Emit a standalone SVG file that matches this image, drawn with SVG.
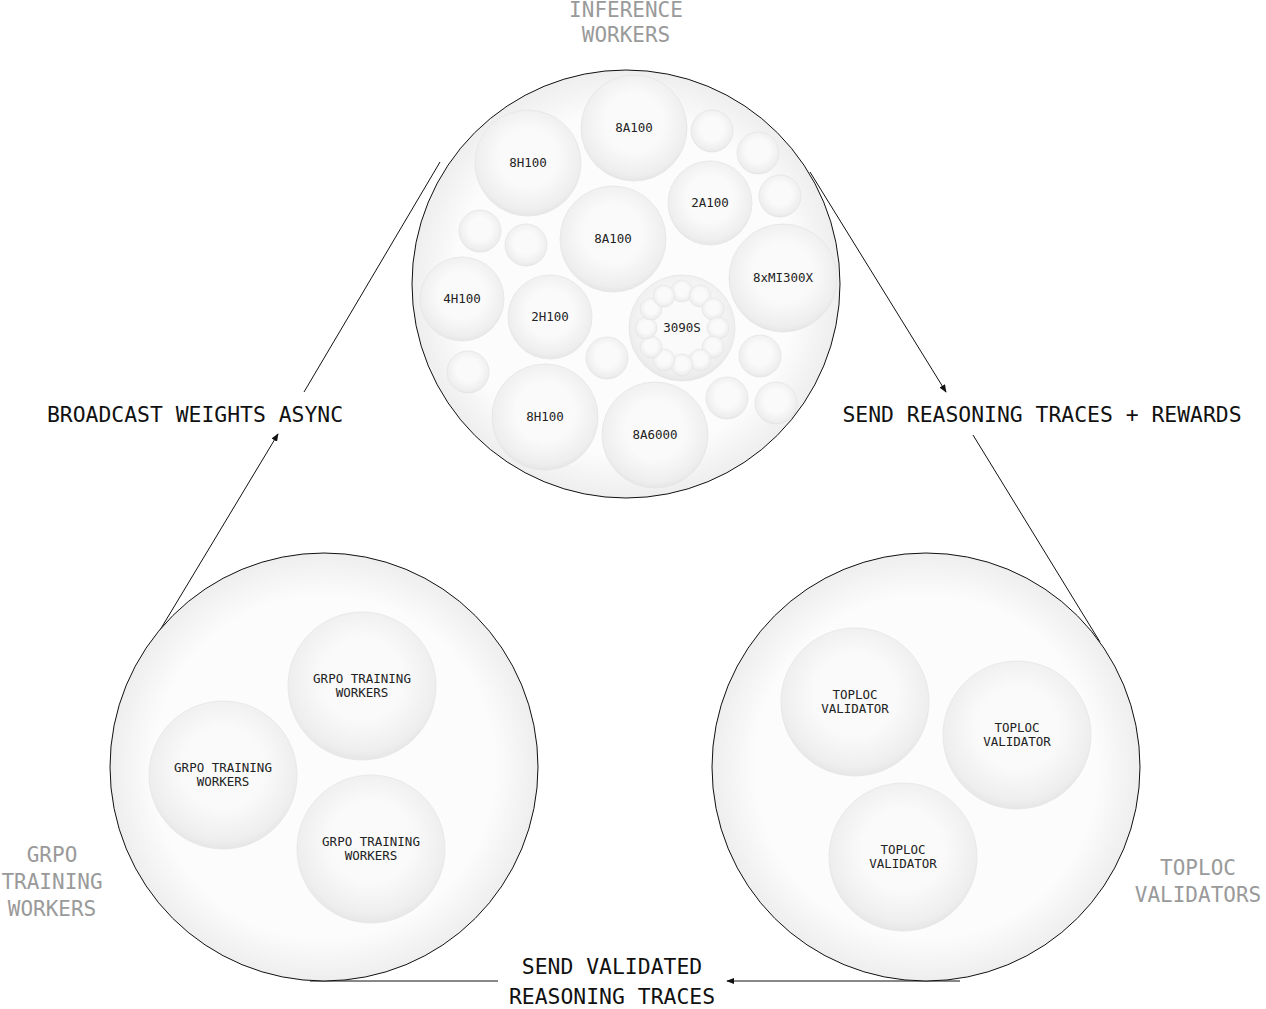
<svg xmlns="http://www.w3.org/2000/svg" width="1266" height="1009" viewBox="0 0 1266 1009">
<defs>
<radialGradient id="outer" cx="50%" cy="50%" r="50%"><stop offset="0.8" stop-color="#fcfcfc"/><stop offset="1" stop-color="#eeeeee"/></radialGradient>
<radialGradient id="inner" cx="50%" cy="45%" r="55%"><stop offset="0.5" stop-color="#fafafa"/><stop offset="0.9" stop-color="#eeeeee"/><stop offset="1" stop-color="#e6e6e6"/></radialGradient>
<marker id="ah" viewBox="0 0 10 10" refX="9" refY="5" markerWidth="8" markerHeight="8" orient="auto-start-reverse"><path d="M0,1 L10,5 L0,9 z" fill="#111"/></marker>
</defs>
<style>
.o{fill:url(#outer);stroke:#111;stroke-width:1}
.i{fill:url(#inner);stroke:#e4e4e4;stroke-width:0.8}
.t{font-family:"DejaVu Sans Mono",monospace;font-size:12.5px;fill:#222;text-anchor:middle}
.big{font-family:"DejaVu Sans Mono",monospace;font-size:21.4px;fill:#111;text-anchor:middle}
.g{font-family:"DejaVu Sans Mono",monospace;font-size:21px;fill:#9a9a9a;text-anchor:middle}
.c{stroke:#111;stroke-width:1;fill:none}
</style>
<rect width="1266" height="1009" fill="#fff"/>
<g id="connectors">
<line class="c" x1="148" y1="650" x2="278" y2="434" marker-end="url(#ah)"/>
<line class="c" x1="304" y1="392" x2="440" y2="162"/>
<line class="c" x1="810" y1="172" x2="946" y2="392" marker-end="url(#ah)"/>
<line class="c" x1="973" y1="435" x2="1100" y2="642"/>
<line class="c" x1="310" y1="981" x2="498" y2="981"/>
<line class="c" x1="960" y1="981" x2="727" y2="981" marker-end="url(#ah)"/>
<text class="big" x="195" y="422">BROADCAST WEIGHTS ASYNC</text>
<text class="big" x="1042" y="422">SEND REASONING TRACES + REWARDS</text>
<text class="big" x="612" y="974">SEND VALIDATED</text>
<text class="big" x="612" y="1004">REASONING TRACES</text>
</g>
<g id="inference">
<circle class="o" cx="626" cy="284" r="214"/>
<circle class="i" cx="634" cy="128" r="53"/><text class="t" x="634" y="132">8A100</text>
<circle class="i" cx="528" cy="163" r="53"/><text class="t" x="528" y="167">8H100</text>
<circle class="i" cx="710" cy="203" r="42"/><text class="t" x="710" y="207">2A100</text>
<circle class="i" cx="613" cy="239" r="53"/><text class="t" x="613" y="243">8A100</text>
<circle class="i" cx="783" cy="278" r="54"/><text class="t" x="783" y="282">8xMI300X</text>
<circle class="i" cx="462" cy="299" r="42"/><text class="t" x="462" y="303">4H100</text>
<circle class="i" cx="550" cy="317" r="42"/><text class="t" x="550" y="321">2H100</text>
<circle class="i" cx="682" cy="328" r="53"/>
<g fill="url(#inner)" stroke="#e4e4e4" stroke-width="0.6">
<circle cx="682" cy="291" r="11"/><circle cx="700" cy="296" r="11"/><circle cx="713" cy="309" r="11"/><circle cx="718" cy="328" r="11"/><circle cx="713" cy="347" r="11"/><circle cx="700" cy="360" r="11"/><circle cx="682" cy="365" r="11"/><circle cx="664" cy="360" r="11"/><circle cx="651" cy="347" r="11"/><circle cx="646" cy="328" r="11"/><circle cx="651" cy="309" r="11"/><circle cx="664" cy="296" r="11"/>
</g>
<text class="t" x="682" y="332">3090S</text>
<circle class="i" cx="545" cy="417" r="53"/><text class="t" x="545" y="421">8H100</text>
<circle class="i" cx="655" cy="435" r="53"/><text class="t" x="655" y="439">8A6000</text>
<circle class="i" cx="712" cy="131" r="21"/><circle class="i" cx="758" cy="153" r="21"/><circle class="i" cx="780" cy="196" r="21"/><circle class="i" cx="480" cy="231" r="21"/><circle class="i" cx="526" cy="245" r="21"/><circle class="i" cx="468" cy="372" r="21"/><circle class="i" cx="607" cy="358" r="21"/><circle class="i" cx="760" cy="356" r="21"/><circle class="i" cx="727" cy="398" r="21"/><circle class="i" cx="776" cy="403" r="21"/>
<text class="g" x="626" y="17">INFERENCE</text><text class="g" x="626" y="42">WORKERS</text>
</g>
<g id="grpo">
<circle class="o" cx="324" cy="767" r="214"/>
<circle class="i" cx="362" cy="686" r="74"/><text class="t" x="362" y="683">GRPO TRAINING</text><text class="t" x="362" y="697">WORKERS</text>
<circle class="i" cx="223" cy="775" r="74"/><text class="t" x="223" y="772">GRPO TRAINING</text><text class="t" x="223" y="786">WORKERS</text>
<circle class="i" cx="371" cy="849" r="74"/><text class="t" x="371" y="846">GRPO TRAINING</text><text class="t" x="371" y="860">WORKERS</text>
<text class="g" x="52" y="862">GRPO</text><text class="g" x="52" y="889">TRAINING</text><text class="g" x="52" y="916">WORKERS</text>
</g>
<g id="toploc">
<circle class="o" cx="926" cy="767" r="214"/>
<circle class="i" cx="855" cy="702" r="74"/><text class="t" x="855" y="699">TOPLOC</text><text class="t" x="855" y="713">VALIDATOR</text>
<circle class="i" cx="1017" cy="735" r="74"/><text class="t" x="1017" y="732">TOPLOC</text><text class="t" x="1017" y="746">VALIDATOR</text>
<circle class="i" cx="903" cy="857" r="74"/><text class="t" x="903" y="854">TOPLOC</text><text class="t" x="903" y="868">VALIDATOR</text>
<text class="g" x="1198" y="875">TOPLOC</text><text class="g" x="1198" y="902">VALIDATORS</text>
</g>
</svg>
